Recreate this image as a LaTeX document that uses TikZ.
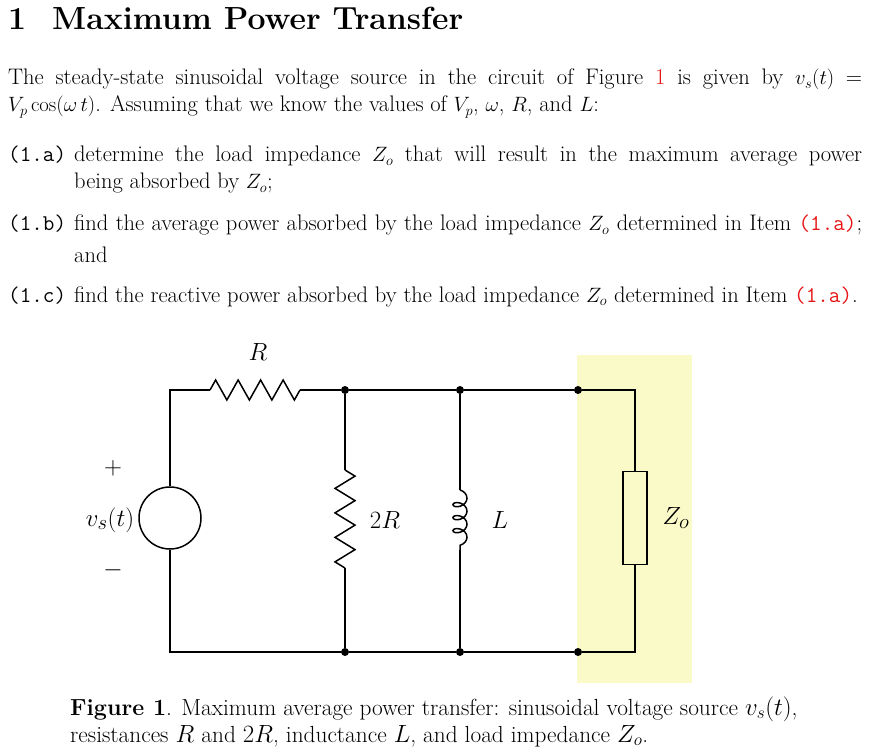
\documentclass[tikz,border=0pt]{standalone}
\usetikzlibrary{decorations.pathmorphing}
\definecolor{refred}{RGB}{230,20,20}
\definecolor{loadyel}{RGB}{250,250,200}
\newcommand{\bt}{\fontsize{22.5}{27}\selectfont}
\newcommand{\rf}[1]{\textcolor{refred}{\texttt{#1}}}
\begin{document}
\begin{tikzpicture}[x=1pt,y=-1pt,
  txt/.style={anchor=base west,inner sep=0pt,font=\bt},
  wire/.style={line width=1.5pt},
  dot/.style={circle,fill=black,inner sep=0pt,minimum size=8pt}]
\useasboundingbox (0,0) rectangle (870,754);
\fill[white] (0,0) rectangle (870,754);
% text
\node[txt,font=\fontsize{32}{34}\selectfont\bfseries] (title) at (8,30) {1\hspace{26pt}Maximum Power Transfer};
\node[txt] (l1) at (8,85) {\makebox[854pt][s]{The steady-state sinusoidal voltage source in the circuit of Figure \textcolor{refred}{1} is given by $v_s(t)$ =}};
\node[txt] (l2) at (8,112) {$V_p\cos(\omega\,t)$. Assuming that we know the values of $V_p$, $\omega$, $R$, and $L$:};
\node[txt] (a1) at (8,162) {\texttt{(1.a)}};
\node[txt] (a2) at (74,162) {\makebox[788pt][s]{determine the load impedance $Z_o$ that will result in the maximum average power}};
\node[txt] (a3) at (74,189) {being absorbed by $Z_o$;};
\node[txt] (b1) at (8,231) {\texttt{(1.b)}};
\node[txt] (b2) at (74,231) {\makebox[788pt][s]{find the average power absorbed by the load impedance $Z_o$ determined in Item \rf{(1.a)};}};
\node[txt] (b3) at (74,262) {and};
\node[txt] (c1) at (8,302) {\texttt{(1.c)}};
\node[txt] (c2) at (74,302) {find the reactive power absorbed by the load impedance $Z_o$ determined in Item \rf{(1.a)}.};
% circuit
\fill[loadyel] (577,355) rectangle (692,683);
\coordinate (tl) at (170,390); \coordinate (bl) at (170,652);
\coordinate (tr) at (635,390); \coordinate (br) at (635,652);
\node[dot] (n1) at (345,390) {}; \node[dot] (n2) at (460,390) {}; \node[dot] (n3) at (578,390) {};
\node[dot] (m1) at (345,652) {}; \node[dot] (m2) at (460,652) {}; \node[dot] (m3) at (578,652) {};
\node[circle,draw,line width=1.5pt,minimum size=62pt,inner sep=0pt] (src) at (170,518) {};
\node[draw,line width=1.5pt,minimum width=24pt,minimum height=93pt,inner sep=0pt] (zo) at (635,518) {};
\coordinate (ra) at (210,390); \coordinate (rb) at (300,390);
\coordinate (ta) at (345,470); \coordinate (tb) at (345,568);
\coordinate (ia) at (460,490); \coordinate (ib) at (460,550);
\draw[wire] (src.north) -- (tl) -- (ra);
\draw[wire,decorate,decoration={zigzag,segment length=22.5pt,amplitude=10pt}] (ra) -- (rb);
\draw[wire] (rb) -- (n1) -- (n2) -- (n3) -- (tr) -- (zo.north);
\draw[wire] (src.south) -- (bl) -- (m1) -- (m2) -- (m3) -- (br) -- (zo.south);
\draw[wire] (n1) -- (ta);
\draw[wire,decorate,decoration={zigzag,segment length=24.5pt,amplitude=10pt}] (ta) -- (tb);
\draw[wire] (tb) -- (m1);
\draw[wire] (n2) -- (ia);
\draw[wire,decorate,decoration={coil,aspect=0.7,segment length=13pt,amplitude=7pt}] (ia) -- (ib);
\draw[wire] (ib) -- (m2);
\node[font=\fontsize{32}{30}\selectfont] (lr) at (258,352) {$R$};
\node[font=\fontsize{32}{30}\selectfont] (lp) at (113,468) {$+$};
\node[font=\fontsize{32}{30}\selectfont] (lv) at (110,520) {$v_s(t)$};
\node[font=\fontsize{32}{30}\selectfont] (lm) at (113,570) {$-$};
\node[font=\fontsize{32}{30}\selectfont] (l2r) at (385,520) {$2R$};
\node[font=\fontsize{32}{30}\selectfont] (ll) at (500,520) {$L$};
\node[font=\fontsize{32}{30}\selectfont] (lz) at (676,518) {$Z_o$};
% caption
\node[txt,font=\fontsize{23.3}{27}\selectfont] (cap1) at (70,715) {\textbf{Figure 1}. Maximum average power transfer: sinusoidal voltage source $v_s(t)$,};
\node[txt,font=\fontsize{23.3}{27}\selectfont] (cap2) at (70,742) {resistances $R$ and $2R$, inductance $L$, and load impedance $Z_o$.};
\end{tikzpicture}
\end{document}
